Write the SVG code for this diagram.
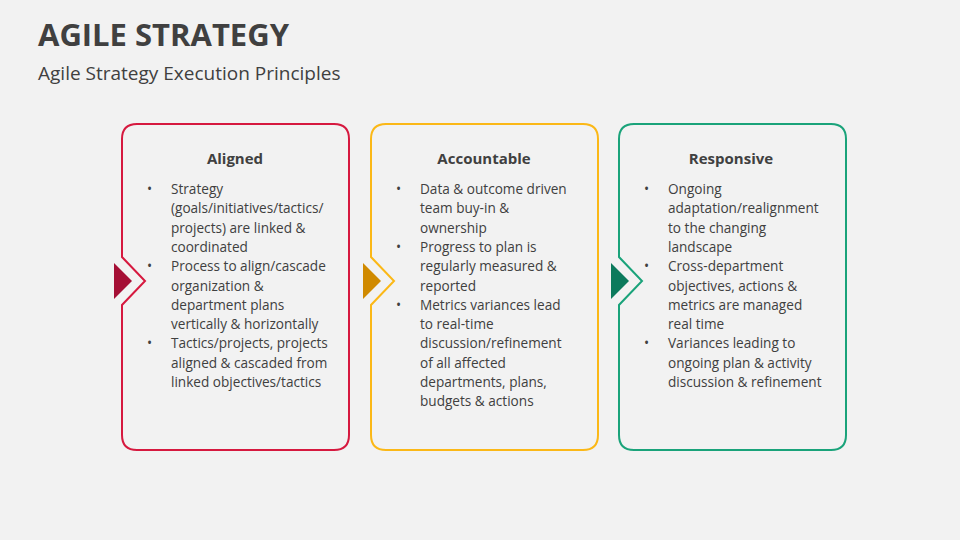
<svg xmlns="http://www.w3.org/2000/svg" width="960" height="540" viewBox="0 0 960 540">
<style>
.t{font-family:"Open Sans","Liberation Sans",sans-serif;fill:#404040}
.h{font-size:15px;font-weight:bold;text-anchor:middle}
.b{font-size:13.6px}
.box{fill:none;stroke-width:2}
</style>
<rect width="960" height="540" fill="#f2f2f2"/>
<text x="38" y="46" class="t" font-size="31" font-weight="bold" font-family="Liberation Sans">AGILE STRATEGY</text>
<text x="38" y="80" class="t" font-size="19">Agile Strategy Execution Principles</text>
<g id="aligned">
<path class="box" stroke="#d6193f" d="M137,124 H334 Q349,124 349,139 V435 Q349,450 334,450 H137 Q122,450 122,435 V305 L145,281 L122,257 V139 Q122,124 137,124 Z"/>
<path fill="#a50f35" d="M114,263 L132,281 L114,299 Z"/>
<text class="t h" x="235" y="164">Aligned</text>
<text class="t b"><tspan x="147" y="194">•</tspan><tspan x="171" y="194">Strategy</tspan><tspan x="171" y="213.3">(goals/initiatives/tactics/</tspan><tspan x="171" y="232.6">projects) are linked &amp;</tspan><tspan x="171" y="251.9">coordinated</tspan><tspan x="147" y="271.2">•</tspan><tspan x="171" y="271.2">Process to align/cascade</tspan><tspan x="171" y="290.5">organization &amp;</tspan><tspan x="171" y="309.8">department plans</tspan><tspan x="171" y="329.1">vertically &amp; horizontally</tspan><tspan x="147" y="348.4">•</tspan><tspan x="171" y="348.4">Tactics/projects, projects</tspan><tspan x="171" y="367.7">aligned &amp; cascaded from</tspan><tspan x="171" y="387">linked objectives/tactics</tspan></text>
</g>
<g id="accountable">
<path class="box" stroke="#fbb817" d="M386,124 H583 Q598,124 598,139 V435 Q598,450 583,450 H386 Q371,450 371,435 V305 L394,281 L371,257 V139 Q371,124 386,124 Z"/>
<path fill="#d08a00" d="M363,263 L381,281 L363,299 Z"/>
<text class="t h" x="484" y="164">Accountable</text>
<text class="t b"><tspan x="396" y="194">•</tspan><tspan x="420" y="194">Data &amp; outcome driven</tspan><tspan x="420" y="213.3">team buy-in &amp;</tspan><tspan x="420" y="232.6">ownership</tspan><tspan x="396" y="251.9">•</tspan><tspan x="420" y="251.9">Progress to plan is</tspan><tspan x="420" y="271.2">regularly measured &amp;</tspan><tspan x="420" y="290.5">reported</tspan><tspan x="396" y="309.8">•</tspan><tspan x="420" y="309.8">Metrics variances lead</tspan><tspan x="420" y="329.1">to real-time</tspan><tspan x="420" y="348.4">discussion/refinement</tspan><tspan x="420" y="367.7">of all affected</tspan><tspan x="420" y="387">departments, plans,</tspan><tspan x="420" y="406.3">budgets &amp; actions</tspan></text>
</g>
<g id="responsive">
<path class="box" stroke="#1aa37a" d="M634,124 H831 Q846,124 846,139 V435 Q846,450 831,450 H634 Q619,450 619,435 V305 L642,281 L619,257 V139 Q619,124 634,124 Z"/>
<path fill="#0c7a5c" d="M611,263 L629,281 L611,299 Z"/>
<text class="t h" x="731" y="164">Responsive</text>
<text class="t b"><tspan x="644" y="194">•</tspan><tspan x="668" y="194">Ongoing</tspan><tspan x="668" y="213.3">adaptation/realignment</tspan><tspan x="668" y="232.6">to the changing</tspan><tspan x="668" y="251.9">landscape</tspan><tspan x="644" y="271.2">•</tspan><tspan x="668" y="271.2">Cross-department</tspan><tspan x="668" y="290.5">objectives, actions &amp;</tspan><tspan x="668" y="309.8">metrics are managed</tspan><tspan x="668" y="329.1">real time</tspan><tspan x="644" y="348.4">•</tspan><tspan x="668" y="348.4">Variances leading to</tspan><tspan x="668" y="367.7">ongoing plan &amp; activity</tspan><tspan x="668" y="387">discussion &amp; refinement</tspan></text>
</g>
<g id="connectors"/>
</svg>
